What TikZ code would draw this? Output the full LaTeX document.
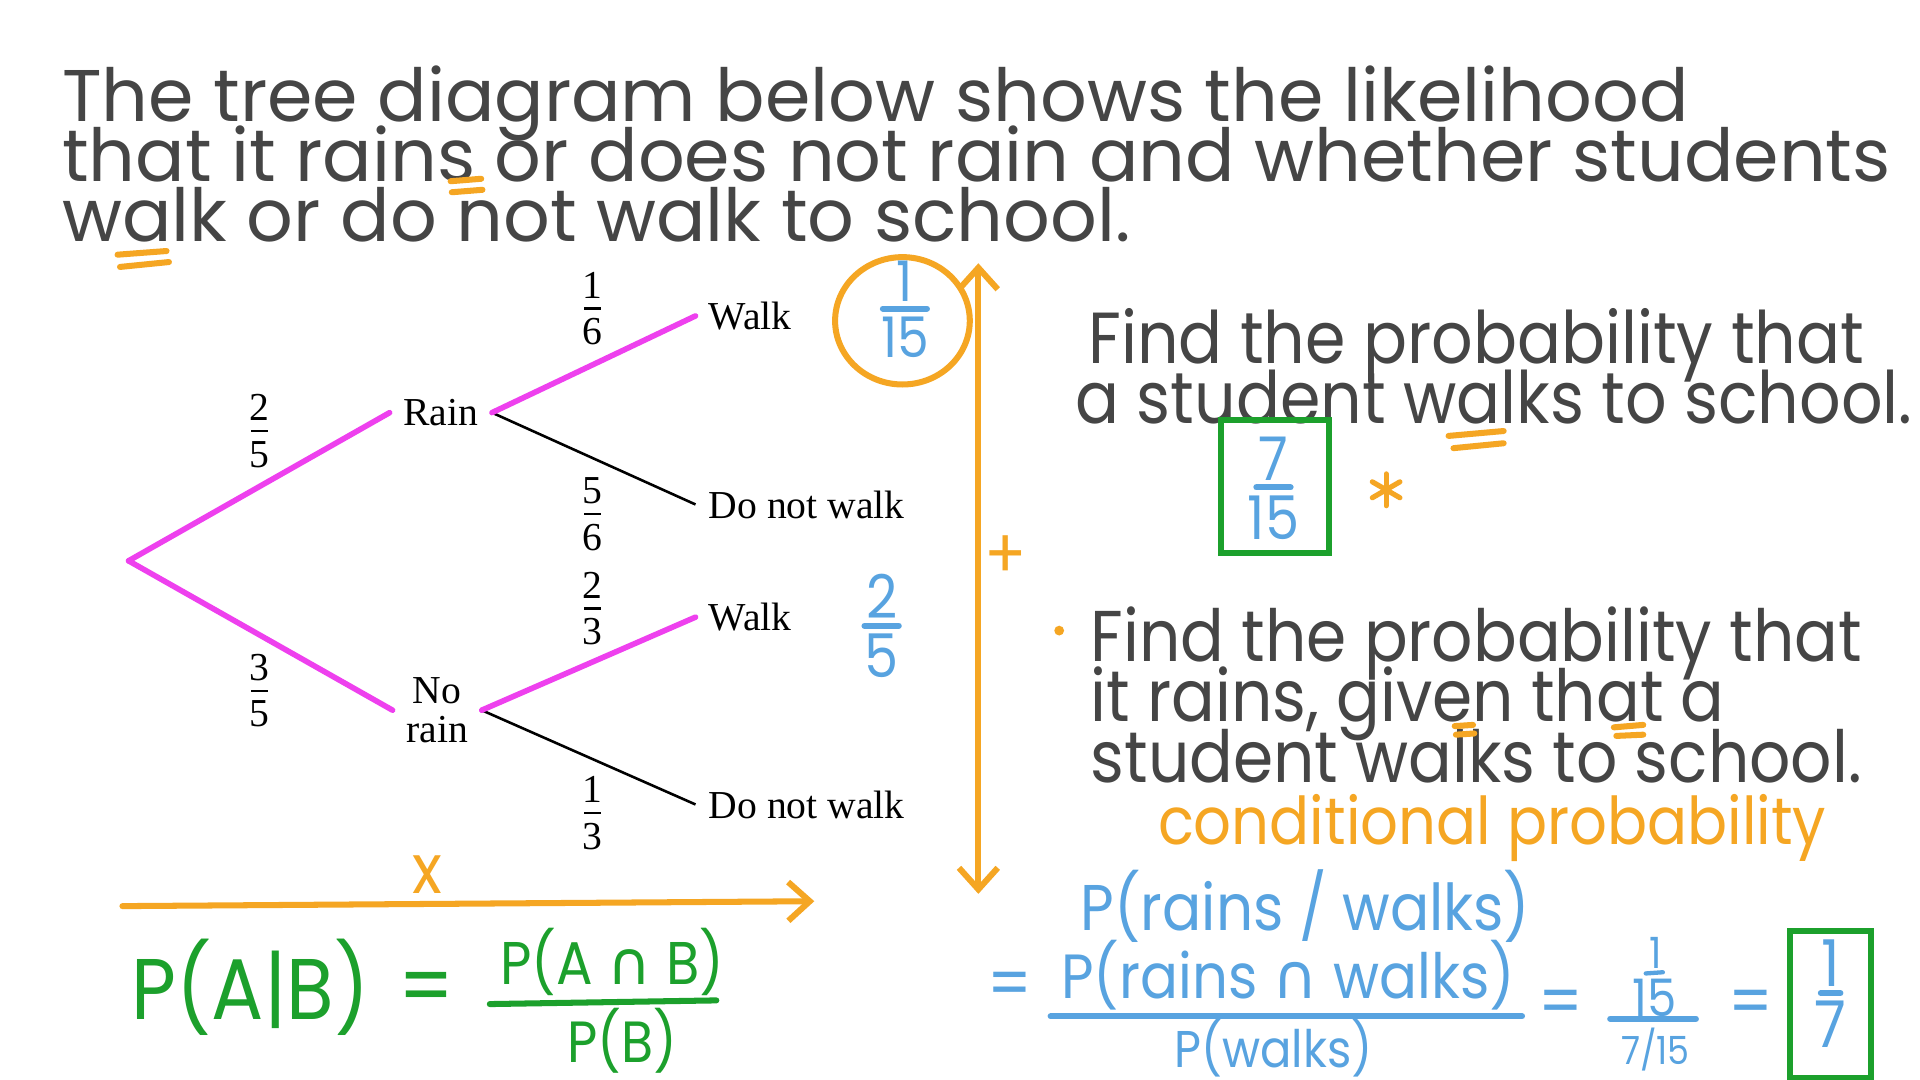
\documentclass[tikz,border=0pt]{standalone}
\usepackage{fontspec}
\setmainfont{Liberation Serif}
\newfontfamily\hw[FakeStretch=0.9]{Poppins}
\newfontfamily\hwwide{Poppins}
\newfontfamily\dv{DejaVu Sans}
\usetikzlibrary{arrows.meta}
\setlength{\lineskiplimit}{-30pt}

\definecolor{ink}{RGB}{69,69,69}
\definecolor{pen}{RGB}{245,166,35}
\definecolor{hl}{RGB}{238,64,238}
\definecolor{bluepen}{RGB}{88,163,224}
\definecolor{greenpen}{RGB}{28,160,44}

\tikzset{
  event/.style={font=\fontsize{9.2}{9}\selectfont, inner sep=3pt, align=center},
  leaf/.style={font=\fontsize{9.2}{11}\selectfont, anchor=west, inner sep=2.9pt},
  treelbl/.style={font=\fontsize{9.2}{11}\selectfont, inner sep=1pt},
  branch/.style={line width=0.6pt},
  hilite/.style={hl, line width=1.3pt, line cap=round},
  note/.style={ink, anchor=north west, align=left, inner sep=0pt,
    font=\hw\fontsize{#1}{14}\selectfont},
  hand/.style={inner sep=0pt, font=\hw\fontsize{#1}{#1}\selectfont},
  stroke/.style={line width=1.4pt, line cap=round},
  barb/.style={stroke, pen, arrows={-Straight Barb[length=5pt,width=9pt]}},
}

% tree fraction: name, x, y of bar, numerator, denominator
\newcommand{\trfrac}[5]{%
  \node[treelbl, anchor=south] (#1n) at (#2,#3-4) {#4};
  \node[treelbl, anchor=north] (#1d) at (#2,#3+4) {#5};
  \draw[line width=0.5pt] (#2-7,#3) -- (#2+7,#3);}

% pen fraction: name, x, y of bar, numerator, denominator, colour, half width, size
\newcommand{\penfrac}[8]{%
  \node[hand=#8, #6, anchor=south] (#1n) at (#2,#3-5) {#4};
  \node[hand=#8, #6, anchor=north] (#1d) at (#2,#3+6) {#5};
  \draw[stroke, #6] (#2-#7,#3) -- (#2+#7,#3);}

\begin{document}
\begin{tikzpicture}[x=0.01cm, y=-0.01cm]
\fill[white] (0,0) rectangle (1568,882);
\useasboundingbox (0,0) rectangle (1568,882);

% question text
\node[note, font=\hwwide\fontsize{17}{13.9}\selectfont] (intro) at (50,53)
  {The tree diagram below shows the likelihood\\
  that it rains or does not rain and whether students\\
  walk or do not walk to school.};
\draw[stroke, pen] (96,208) -- (136,205);
\draw[stroke, pen] (98,218) -- (138,214);
\draw[stroke, pen] (368,148) -- (393,146);
\draw[stroke, pen] (369,157) -- (394,155);

% tree
\coordinate (root) at (105,458);
\node[event] (rain)   at (360,337) {Rain};
\node[event] (norain) at (357,580) {No\\rain};
\node[leaf] (walkA) at (568,258) {Walk};
\node[leaf] (nwalkA) at (568,412) {Do not walk};
\node[leaf] (walkB) at (568,504) {Walk};
\node[leaf] (nwalkB) at (568,657) {Do not walk};

\draw[branch] (root) -- (rain.west);
\draw[branch] (root) -- (norain.west);
\draw[branch] (rain.east) -- (walkA.west);
\draw[branch] (rain.east) -- (nwalkA.west);
\draw[branch] (norain.east) -- (walkB.west);
\draw[branch] (norain.east) -- (nwalkB.west);

\draw[hilite] (root) -- (rain.west);
\draw[hilite] (root) -- (norain.west);
\draw[hilite] (rain.east) -- (walkA.west);
\draw[hilite] (norain.east) -- (walkB.west);

\trfrac{fa}{212}{352}{2}{5}
\trfrac{fb}{212}{564}{3}{5}
\trfrac{fc}{484}{252}{1}{6}
\trfrac{fd}{484}{420}{5}{6}
\trfrac{fe}{484}{497}{2}{3}
\trfrac{ff}{484}{664}{1}{3}

% working on the tree
\draw[stroke, pen] (737,262) ellipse [x radius=55, y radius=52];
\penfrac{pa}{739}{252}{1}{15}{bluepen}{18}{13}
\penfrac{pb}{720}{511}{2}{5}{bluepen}{14}{14}
\coordinate (vtop) at (799,215);
\coordinate (vbot) at (799,730);
\draw[barb, arrows={Straight Barb[length=5pt,width=9pt]-Straight Barb[length=5pt,width=9pt]}] (vtop) -- (vbot);
\node[hand=16, pen] (plus) at (821,455) {+};
\coordinate (hleft) at (100,740);
\coordinate (hright) at (665,736);
\draw[barb] (hleft) -- (hright);
\node[hand=16, pen] (times) at (349,714) {x};

% conditional probability rule
\node[hand=20, greenpen, anchor=base west] (pab) at (107,833) {P(A|B)};
\node[hand=20, greenpen] (geq) at (348,812) {=};
\node[hand=14, greenpen, anchor=south] (gnum) at (500,814) {P(A {\dv ∩} B)};
\draw[stroke, greenpen] (400,820) -- (585,817);
\node[hand=13.5, greenpen, anchor=north] (gden) at (508,823) {P(B)};

% first question
\node[note=16.8] (qone) at (888,251) {Find the probability that\\
  \hspace*{-3pt}a student walks to school.};
\draw[stroke, pen] (1183,356) -- (1228,352);
\draw[stroke, pen] (1187,366) -- (1228,362);
\draw[stroke, greenpen] (997,343) rectangle (1085,452);
\penfrac{pc}{1040}{398}{7}{15}{bluepen}{14}{14}
\foreach \a in {90,30,150}
  \draw[stroke, pen, line width=1.2pt] (1132,400) ++(\a:13) -- ++(\a+180:26);

% second question
\fill[pen] (865,515) circle [radius=4];
\node[note=16.7] (qtwo) at (890,495) {Find the probability that\\
  it rains, given that a\\
  student walks to school.};
\draw[stroke, pen] (1188,593) -- (1203,592);
\draw[stroke, pen] (1189,600) -- (1204,599);
\draw[stroke, pen] (1318,594) -- (1342,592);
\draw[stroke, pen] (1320,601) -- (1342,600);
\node[hand=15.3, pen, anchor=base west] (cond) at (945,690) {conditional probability};

% working
\node[hand=15, bluepen, anchor=base west] (pq) at (882,760) {P(rains / walks)};
\node[hand=16, bluepen] (eqa) at (825,808) {=};
\node[hand=14.5, bluepen, anchor=south] (pnum) at (1052,826) {P(rains {\dv ∩} walks)};
\draw[stroke, bluepen] (858,830) -- (1243,830);
\node[hand=12, bluepen, anchor=north] (pden) at (1040,832) {P(walks)};
\node[hand=16, bluepen] (eqb) at (1275,823) {=};
\node[hand=10, bluepen] (sa) at (1352,778) {1};
\draw[stroke, bluepen, line width=1pt] (1344,795) -- (1358,794);
\node[hand=12, bluepen] (sb) at (1351,815) {15};
\draw[stroke, bluepen] (1315,832) -- (1385,832);
\node[hand=9, bluepen] (sc) at (1352,857) {7/15};
\node[hand=16, bluepen] (eqc) at (1430,823) {=};
\draw[stroke, greenpen] (1462,760) rectangle (1528,880);
\penfrac{pd}{1495}{811}{1}{7}{bluepen}{8}{15}
\end{tikzpicture}
\end{document}
